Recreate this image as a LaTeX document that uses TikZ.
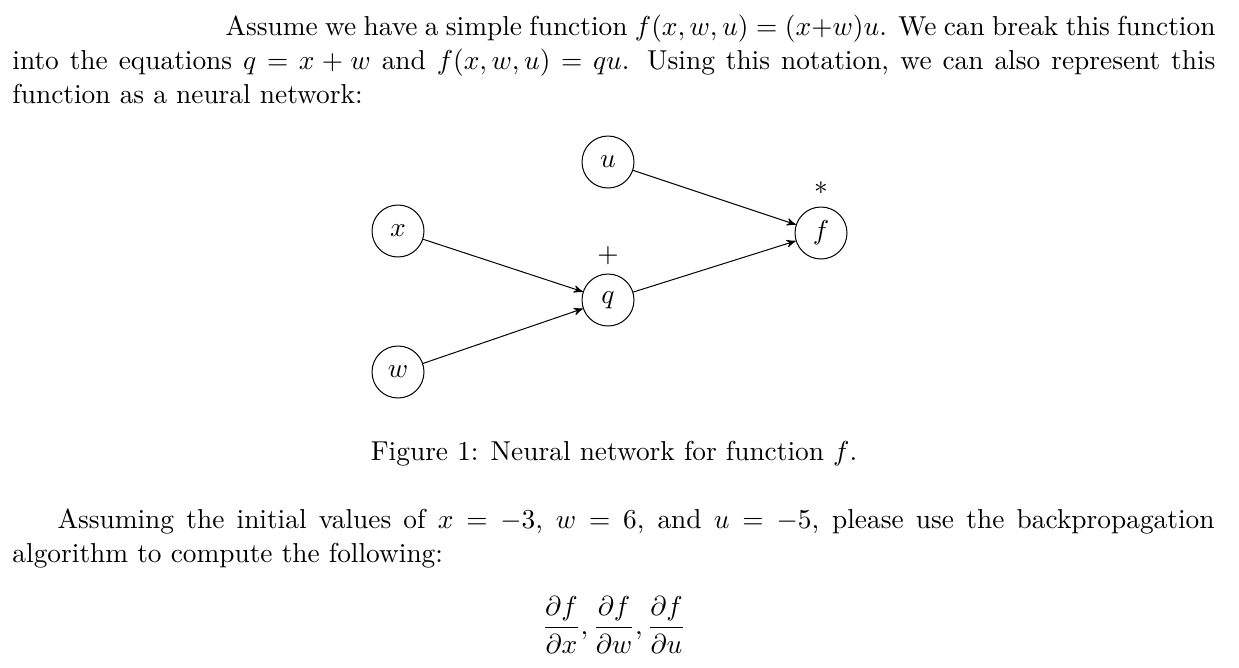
\documentclass[11pt,tikz,border=0pt]{standalone}
\usepackage{amsmath}
\usetikzlibrary{positioning,arrows}
\tikzset{
  neuron/.style = {circle, draw=black, thin, minimum size=20.8pt, inner sep=0pt},
  opname/.style = {inner sep=0pt},
  txtline/.style = {anchor=base west, inner sep=0pt},
  link/.style = {->, >=stealth', thin}
}
\begin{document}
\begin{tikzpicture}[x=0.4pt,y=-0.4pt]
\useasboundingbox (0,0) rectangle (1239,667);
% opening paragraph
\node[txtline] (l1) at (225,35) {\makebox[396pt][s]{Assume we have a simple function $f(x,w,u) = (x{+}w)u$. We can break this function}};
\node[txtline] (l2) at (12,69) {\makebox[481.2pt][s]{into the equations $q = x + w$ and $f(x,w,u) = qu$. Using this notation, we can also represent this}};
\node[txtline] (l3) at (12,103) {function as a neural network:};
% network
\node (u) [neuron] at (608,162) {$u$};
\node (x) [neuron] at (398,231) {$x$};
\node (f) [neuron] at (821,233) {$f$};
\node (q) [neuron] at (608,300) {$q$};
\node (w) [neuron] at (398,372) {$w$};
\node (plus) [opname] at (608,256) {$+$};
\node (times) [opname] at (821,188) {$*$};
\draw[link] (x) -- (q);
\draw[link] (w) -- (q);
\draw[link] (q) -- (f);
\draw[link] (u) -- (f);
\node (cap) [anchor=base, inner sep=0pt] at (614,460) {Figure 1: Neural network for function $f$.};
% second paragraph
\node[txtline] (m1) at (57,528) {\makebox[462.8pt][s]{Assuming the initial values of $x = -3$, $w = 6$, and $u = -5$, please use the backpropagation}};
\node[txtline] (m2) at (12,562) {algorithm to compute the following:};
\node (grads) [inner sep=0pt] at (614,625) {$\displaystyle \frac{\partial f}{\partial x}, \frac{\partial f}{\partial w}, \frac{\partial f}{\partial u}$};
\end{tikzpicture}
\end{document}
